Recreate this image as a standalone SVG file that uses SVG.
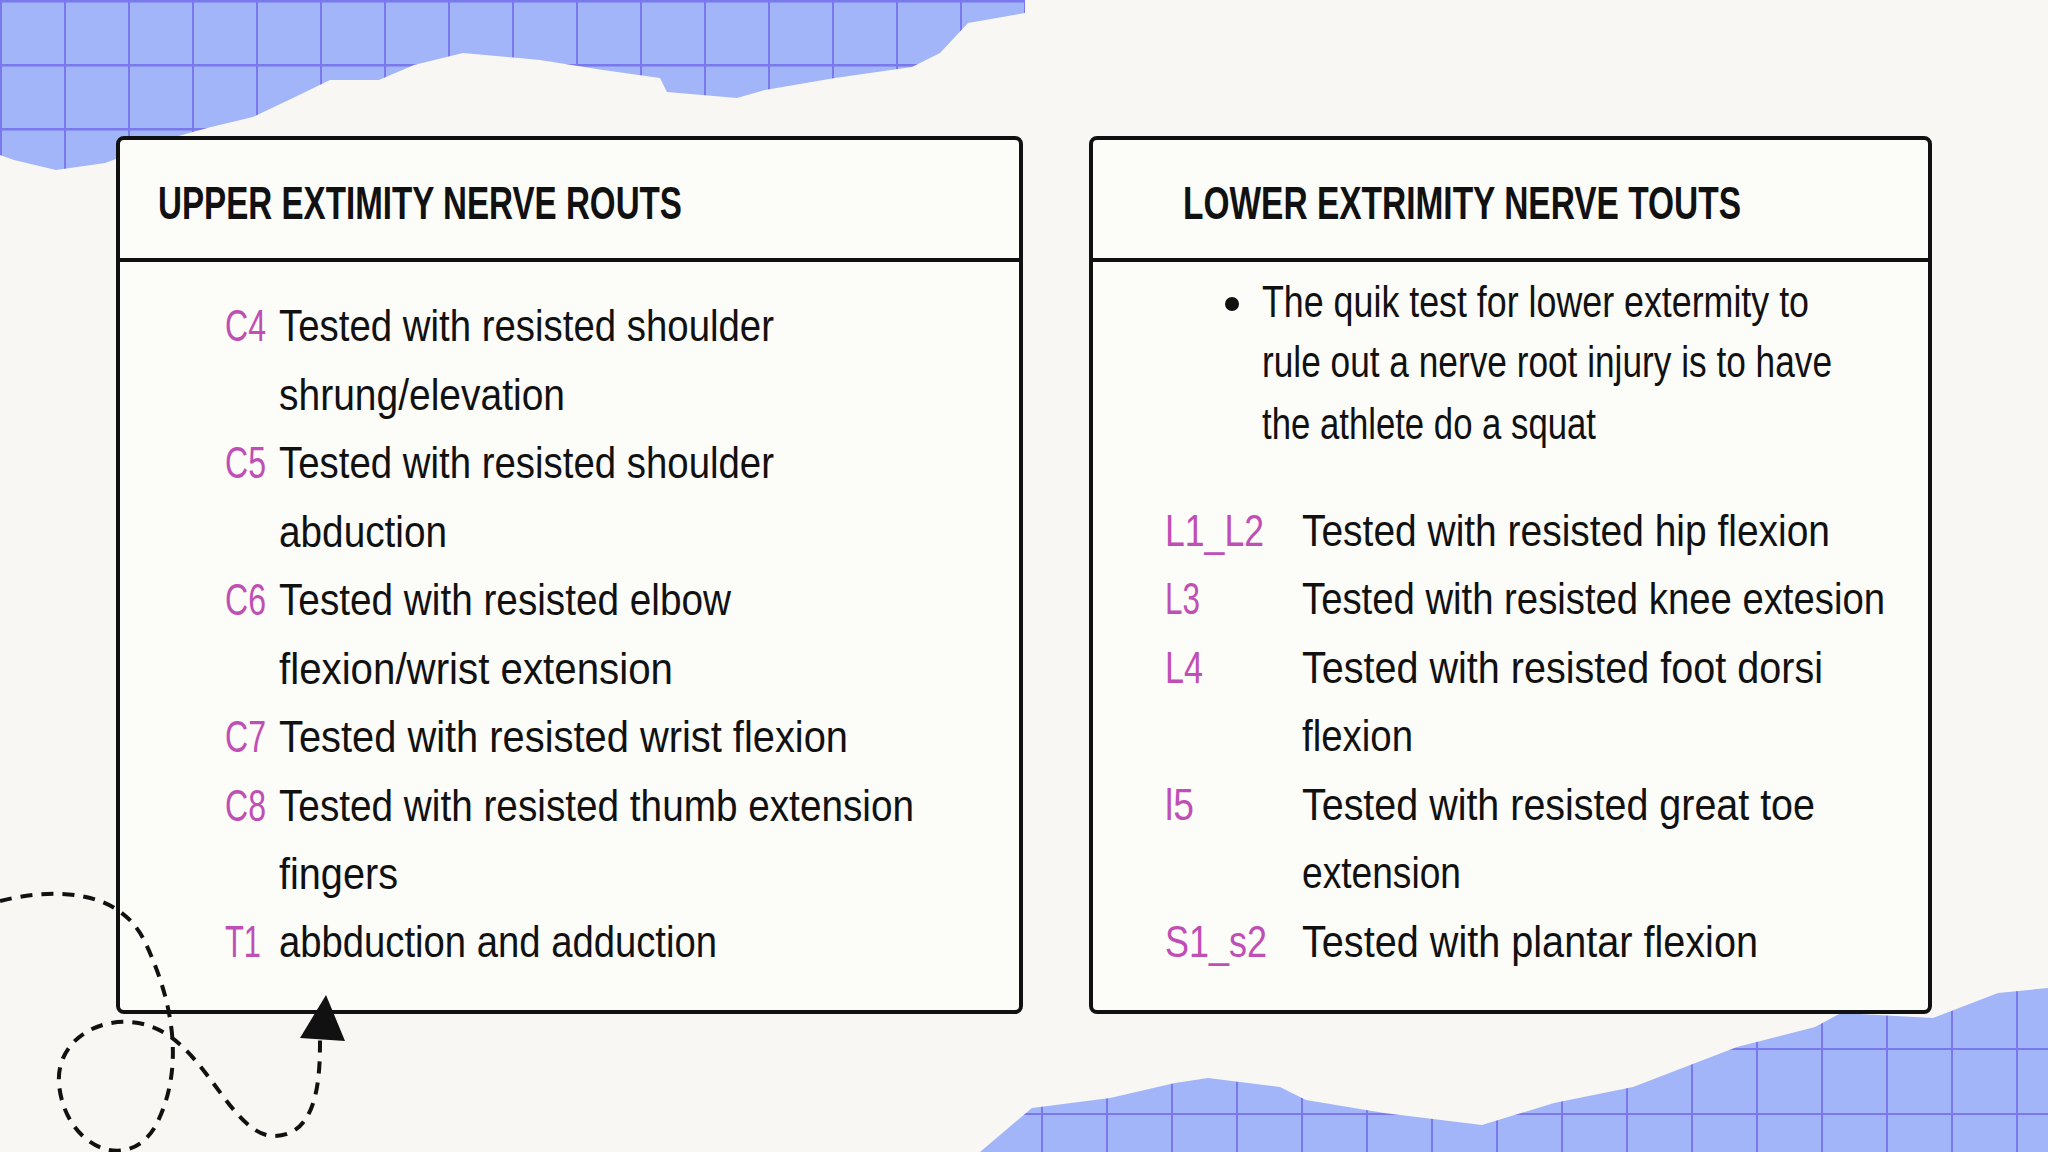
<svg xmlns="http://www.w3.org/2000/svg" width="2048" height="1152" viewBox="0 0 2048 1152">
<defs>
<style>
.ttl{font-family:"Liberation Sans",Arial,sans-serif;font-weight:bold;font-size:46px;fill:#111}
.t{font-family:"Liberation Sans",Arial,sans-serif;font-size:44px;fill:#111}
.lb{font-family:"Liberation Sans",Arial,sans-serif;font-size:44px;fill:#c04fb5}
.box{fill:#fcfcf8;stroke:#111;stroke-width:4}
.grid{stroke:#7b78ee;stroke-width:3}
</style>
<pattern id="g1" x="0" y="0" width="64" height="64" patternUnits="userSpaceOnUse">
<rect width="64" height="64" fill="#a2b5f8"/><path d="M0.5 0V64M0 1H64" class="grid"/>
</pattern>
<pattern id="g2" x="1041" y="1048" width="65" height="65" patternUnits="userSpaceOnUse">
<rect width="65" height="65" fill="#a2b5f8"/><path d="M0.5 0V65M0 0.5H65" class="grid"/>
</pattern>
</defs>
<rect width="2048" height="1152" fill="#f8f7f3"/>
<path fill="url(#g1)" d="M0 0H1025V13L968 23L940 53L912 67L835 78L765 90L737 98L667 92L660 78L603 70L540 60L463 53L414 65L379 80L330 80L295 97L253 117L211 127L175 137L105 163L56 170L14 160L0 155Z"/>
<path fill="url(#g2)" d="M980 1152L1032 1108L1110 1098L1175 1083L1208 1078L1280 1087L1306 1100L1384 1113L1482 1125L1554 1103L1633 1087L1737 1047L1815 1027L1841 1013L1933 1018L1998 993L2048 988V1152Z"/>
<g id="left">
<rect class="box" x="118" y="138" width="903" height="874" rx="6"/>
<line x1="118" y1="260" x2="1021" y2="260" stroke="#111" stroke-width="4"/>
<text class="ttl" x="158" y="219" textLength="524" lengthAdjust="spacingAndGlyphs">UPPER EXTIMITY NERVE ROUTS</text>
<text class="lb" x="225" y="341" textLength="41" lengthAdjust="spacingAndGlyphs">C4</text>
<text class="t" x="279" y="341" textLength="495" lengthAdjust="spacingAndGlyphs">Tested with resisted shoulder</text>
<text class="t" x="279" y="410" textLength="286" lengthAdjust="spacingAndGlyphs">shrung/elevation</text>
<text class="lb" x="225" y="478" textLength="41" lengthAdjust="spacingAndGlyphs">C5</text>
<text class="t" x="279" y="478" textLength="495" lengthAdjust="spacingAndGlyphs">Tested with resisted shoulder</text>
<text class="t" x="279" y="547" textLength="168" lengthAdjust="spacingAndGlyphs">abduction</text>
<text class="lb" x="225" y="615" textLength="41" lengthAdjust="spacingAndGlyphs">C6</text>
<text class="t" x="279" y="615" textLength="452" lengthAdjust="spacingAndGlyphs">Tested with resisted elbow</text>
<text class="t" x="279" y="684" textLength="394" lengthAdjust="spacingAndGlyphs">flexion/wrist extension</text>
<text class="lb" x="225" y="752" textLength="41" lengthAdjust="spacingAndGlyphs">C7</text>
<text class="t" x="279" y="752" textLength="569" lengthAdjust="spacingAndGlyphs">Tested with resisted wrist flexion</text>
<text class="lb" x="225" y="821" textLength="41" lengthAdjust="spacingAndGlyphs">C8</text>
<text class="t" x="279" y="821" textLength="635" lengthAdjust="spacingAndGlyphs">Tested with resisted thumb extension</text>
<text class="t" x="279" y="889" textLength="119" lengthAdjust="spacingAndGlyphs">fingers</text>
<text class="lb" x="225" y="957" textLength="36" lengthAdjust="spacingAndGlyphs">T1</text>
<text class="t" x="279" y="957" textLength="438" lengthAdjust="spacingAndGlyphs">abbduction and adduction</text>
</g>
<g id="right">
<rect class="box" x="1091" y="138" width="839" height="874" rx="6"/>
<line x1="1091" y1="260" x2="1930" y2="260" stroke="#111" stroke-width="4"/>
<text class="ttl" x="1183" y="219" textLength="558" lengthAdjust="spacingAndGlyphs">LOWER EXTRIMITY NERVE TOUTS</text>
<circle cx="1232" cy="304" r="7" fill="#111"/>
<text class="t" x="1262" y="317" textLength="547" lengthAdjust="spacingAndGlyphs">The quik test for lower extermity to</text>
<text class="t" x="1262" y="377" textLength="570" lengthAdjust="spacingAndGlyphs">rule out a nerve root injury is to have</text>
<text class="t" x="1262" y="439" textLength="334" lengthAdjust="spacingAndGlyphs">the athlete do a squat</text>
<text class="lb" x="1165" y="546" textLength="99" lengthAdjust="spacingAndGlyphs">L1_L2</text>
<text class="t" x="1302" y="546" textLength="528" lengthAdjust="spacingAndGlyphs">Tested with resisted hip flexion</text>
<text class="lb" x="1165" y="614" textLength="35" lengthAdjust="spacingAndGlyphs">L3</text>
<text class="t" x="1302" y="614" textLength="583" lengthAdjust="spacingAndGlyphs">Tested with resisted knee extesion</text>
<text class="lb" x="1165" y="683" textLength="38" lengthAdjust="spacingAndGlyphs">L4</text>
<text class="t" x="1302" y="683" textLength="521" lengthAdjust="spacingAndGlyphs">Tested with resisted foot dorsi</text>
<text class="t" x="1302" y="751" textLength="111" lengthAdjust="spacingAndGlyphs">flexion</text>
<text class="lb" x="1165" y="820" textLength="29" lengthAdjust="spacingAndGlyphs">l5</text>
<text class="t" x="1302" y="820" textLength="513" lengthAdjust="spacingAndGlyphs">Tested with resisted great toe</text>
<text class="t" x="1302" y="888" textLength="159" lengthAdjust="spacingAndGlyphs">extension</text>
<text class="lb" x="1165" y="957" textLength="102" lengthAdjust="spacingAndGlyphs">S1_s2</text>
<text class="t" x="1302" y="957" textLength="456" lengthAdjust="spacingAndGlyphs">Tested with plantar flexion</text>
</g>
<g id="connectors">
<path d="M0 901C52 888 118 888 144 940C176 1006 183 1071 157 1123C131 1175 65 1149 59 1084C55 1032 118 1006 163 1032C209 1058 235 1136 274 1136C320 1136 320 1071 320 1038" fill="none" stroke="#111" stroke-width="4" stroke-dasharray="12 9"/>
<path d="M300 1038L345 1041L326 995Z" fill="#111"/>
</g>
</svg>
